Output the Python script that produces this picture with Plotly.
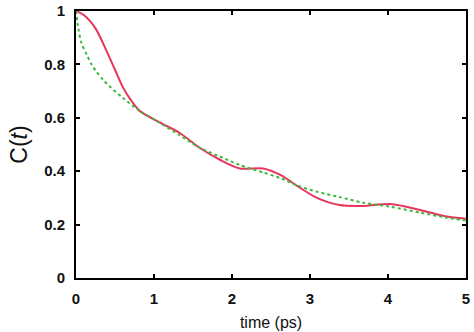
import plotly.graph_objects as go

t_red = [0, 0.1, 0.25, 0.4, 0.5, 0.6, 0.7, 0.82, 1.08, 1.33, 1.59, 1.85, 2.1, 2.4, 2.62, 2.85, 3.09, 3.38, 3.68, 4.03, 4.41, 4.75, 5.0]
c_red = [1.0, 0.985, 0.935, 0.845, 0.78, 0.715, 0.668, 0.625, 0.582, 0.543, 0.487, 0.442, 0.41, 0.41, 0.386, 0.342, 0.30, 0.273, 0.27, 0.277, 0.255, 0.23, 0.222]

t_green = [0, 0.03, 0.07, 0.14, 0.2, 0.26, 0.35, 0.44, 0.6, 0.82, 1.08, 1.33, 1.59, 1.85, 2.1, 2.4, 2.62, 2.85, 3.09, 3.38, 3.68, 4.03, 4.41, 4.75, 5.0]
c_green = [1.0, 0.935, 0.88, 0.835, 0.8, 0.773, 0.742, 0.715, 0.675, 0.625, 0.58, 0.535, 0.487, 0.454, 0.423, 0.395, 0.374, 0.345, 0.323, 0.303, 0.282, 0.267, 0.245, 0.226, 0.215]

x_ticks = [0, 1, 2, 3, 4, 5]
y_ticks = [0, 0.2, 0.4, 0.6, 0.8, 1]
y_tick_labels = ["0", "0.2", "0.4", "0.6", "0.8", "1"]

FONT = "Liberation Sans, Arial, Helvetica"

fig = go.Figure()
fig.add_trace(go.Scatter(x=t_red, y=c_red, mode="lines",
                         line=dict(color="#e8345c", width=2, shape="spline", smoothing=0.8)))
fig.add_trace(go.Scatter(x=t_green, y=c_green, mode="lines",
                         line=dict(color="#3cb83c", width=2, dash="dot", shape="spline", smoothing=0.8)))

axis_common = dict(showgrid=False, zeroline=False, showline=True, linecolor="black", linewidth=2,
                   mirror="allticks", ticks="inside", ticklen=4, tickwidth=1.5, tickcolor="black",
                   automargin=False,
                   tickfont=dict(family=FONT, size=15, color="#111", weight="bold"))

fig.update_layout(
    width=474, height=332,
    margin=dict(l=76, r=8, t=11, b=54),
    paper_bgcolor="white", plot_bgcolor="white",
    showlegend=False,
    xaxis=dict(range=[0, 5], tickvals=x_ticks, ticklabelstandoff=6,
               title=dict(text="time (ps)", font=dict(family=FONT, size=16, color="#111"), standoff=11),
               **axis_common),
    yaxis=dict(range=[0, 1], tickvals=y_ticks, ticktext=y_tick_labels, ticklabelstandoff=6,
               title=dict(text="C(<i>t</i>)", font=dict(family=FONT, size=23, color="#111"), standoff=10),
               **axis_common),
)

fig.write_html("out.html")
